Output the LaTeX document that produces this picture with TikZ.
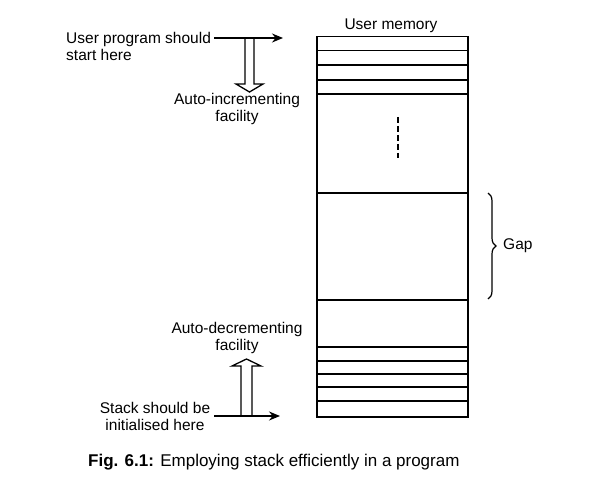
\documentclass[tikz,border=0pt]{standalone}
\usepackage{fontspec}
\setmainfont{Liberation Sans}
\usetikzlibrary{arrows.meta,decorations.pathreplacing}
\begin{document}
\begin{tikzpicture}[x=1pt,y=-1pt,
  lbl/.style={font=\fontsize{15.5}{17}\selectfont,align=center,inner sep=0},
  ln/.style={line width=1.5pt},
  hol/.style={line width=1.3pt}]
\useasboundingbox (0,0) rectangle (608,484);
\node[draw,ln,minimum width=151pt,minimum height=380pt,anchor=north west,inner sep=0] (mem) at (316,36) {};
\foreach \y in {50.5,65,80,94,193,300,347,361,374,387,401}
  \draw[ln] (316,\y) -- (467,\y);
\draw[ln,dash pattern=on 6pt off 3pt] (398,117) -- (398,158);
\node[lbl,anchor=south] (um) at (391,33) {User memory};
% top
\node[lbl,align=left,anchor=west] (up) at (66,46) {User program should\\start here};
\coordinate (a1) at (283,38);
\draw[ln,-{Stealth[length=11pt,width=9pt]}] (up.east|-a1) ++(3,0) coordinate (a0) -- (a1);
\draw[hol] (245,38) -- (245,84) -- (236,84) -- (249.5,92) -- (263,84) -- (254,84) -- (254,38);
\node[lbl] (ai) at (237,109) {Auto-incrementing\\facility};
% bottom
\node[lbl] (ss) at (155,416) {Stack should be\\initialised here};
\coordinate (b1) at (280,416);
\draw[ln,-{Stealth[length=11pt,width=9pt]}] (214,416) -- (b1);
\draw[hol] (241,416) -- (241,366) -- (232,366) -- (246.5,359) -- (261,366) -- (252,366) -- (252,416);
\node[lbl] (ad) at (237,338) {Auto-decrementing\\facility};
% brace
\draw[line width=1.2pt,decorate,decoration={brace,amplitude=8pt}] (488,193) -- (488,299);
\node[lbl,anchor=west] (gap) at (503,246) {Gap};
\node[font=\fontsize{17}{19}\selectfont,inner sep=0,anchor=west] (cap) at (88,462) {\textbf{Fig. 6.1:} Employing stack efficiently in a program};
\end{tikzpicture}
\end{document}
